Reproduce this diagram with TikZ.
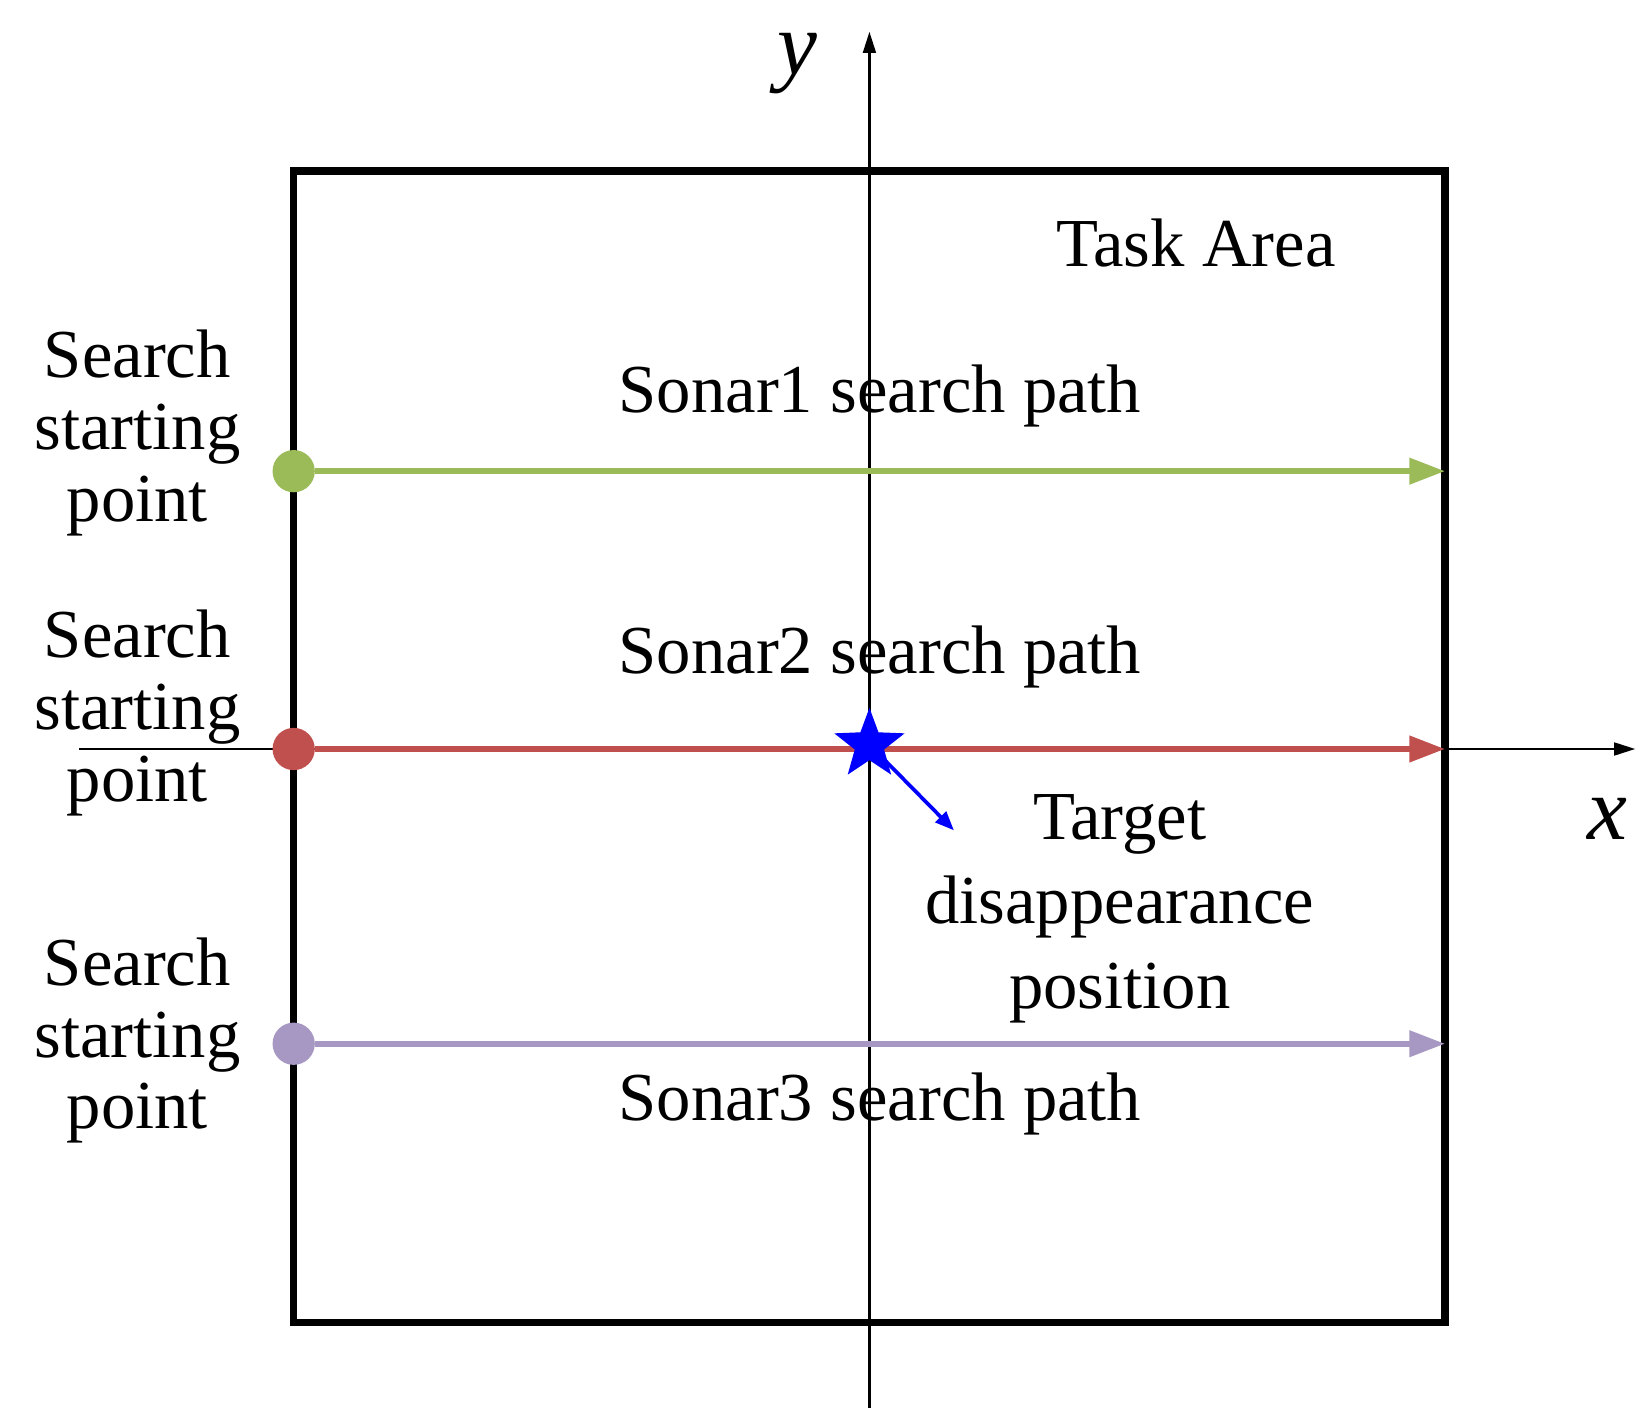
\documentclass[tikz,border=0pt]{standalone}
\usepackage{fontspec}
\setmainfont{Liberation Serif}
\usetikzlibrary{shapes.geometric,arrows.meta}
\begin{document}
\begin{tikzpicture}[x=1pt,y=-1pt,
  lbl/.style={font=\fontsize{65}{68}\selectfont,align=center,inner sep=0},
  path/.style={line width=6pt,-{Triangle[length=34pt,width=24pt]}},
  dot/.style={circle,inner sep=0,minimum size=40pt}]
\useasboundingbox (0,0) rectangle (1560,1351);
\definecolor{cg}{RGB}{155,187,89}
\definecolor{cr}{RGB}{192,80,77}
\definecolor{cp}{RGB}{166,152,195}
\draw[line width=7pt] (278,162) rectangle (1368,1252);
\coordinate (ya) at (823,1333); \coordinate (yb) at (823,30);
\coordinate (xa) at (75,709); \coordinate (xb) at (1548,709);
\draw[line width=2.5pt,-{Triangle[length=20pt,width=12pt]}] (ya) -- (yb);
\draw[line width=2.5pt,-{Triangle[length=20pt,width=12pt]}] (xa) -- (xb);
\node[font=\fontsize{85}{85}\selectfont\itshape] (ylab) at (755,60) {y};
\node[font=\fontsize{85}{85}\selectfont\itshape] (xlab) at (1522,775) {x};
\node[dot,fill=cg] (s1) at (278,446) {};
\node[dot,fill=cr] (s2) at (278,709) {};
\node[dot,fill=cp] (s3) at (278,988) {};
\coordinate (e1) at (1368,446); \coordinate (e2) at (1368,709); \coordinate (e3) at (1368,988);
\draw[path,cg] (s1) -- (e1);
\draw[path,cr] (s2) -- (e2);
\draw[path,cp] (s3) -- (e3);
\node[star,star points=5,star point ratio=2.4,fill=blue,inner sep=0,minimum size=70pt] (st) at (823,705) {};
\coordinate (ta) at (903,786);
\draw[blue,line width=3.5pt,-{Triangle[length=18pt,width=14pt]}] (st.center) ++(15,15) -- (ta);
\node[lbl] (task) at (1132,230) {Task Area};
\node[lbl] (p1) at (833,375) {Sonar1 search path};
\node[lbl] (p2) at (833,622) {Sonar2 search path};
\node[lbl] (p3) at (833,1045) {Sonar3 search path};
\node[lbl] (l1) at (130,410) {Search\\starting\\point};
\node[lbl] (l2) at (130,675) {Search\\starting\\point};
\node[lbl] (l3) at (130,985) {Search\\starting\\point};
\node[lbl,font=\fontsize{65}{80}\selectfont] (tg) at (1060,860) {Target\\disappearance\\position};
\end{tikzpicture}
\end{document}
